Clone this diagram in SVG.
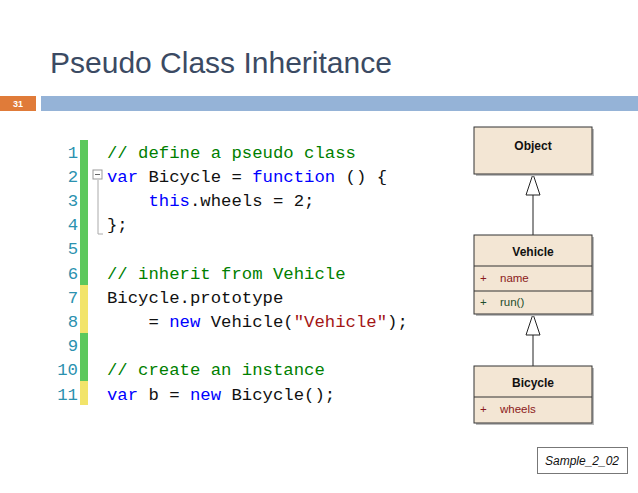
<svg xmlns="http://www.w3.org/2000/svg" width="638" height="493" viewBox="0 0 638 493">
<style>
.code{font-family:"Liberation Mono",monospace;font-size:17.3px;fill:#111}
.ln{font-family:"Liberation Mono",monospace;font-size:17.3px;fill:#2b91af;text-anchor:end}
.cm{fill:#008000}.kw{fill:#0000ff}.st{fill:#a31515}
.box{fill:#f3e6d4;stroke:#333;stroke-width:1}
.hd{font-family:"Liberation Sans",sans-serif;font-size:12px;font-weight:bold;text-anchor:middle;fill:#111}
.at{font-family:"Liberation Sans",sans-serif;font-size:11.5px;fill:#8b1a1a}
.op{font-family:"Liberation Sans",sans-serif;font-size:11.5px;fill:#1e4d2b}
.tri{fill:#fff;stroke:#222;stroke-width:1}
</style>
<rect width="638" height="493" fill="#fff"/>
<text x="50" y="73" font-family="Liberation Sans, sans-serif" font-size="30" fill="#3b4a63">Pseudo Class Inheritance</text>
<rect x="0" y="96" width="36" height="15" fill="#e07b39"/>
<text x="18" y="107" font-family="Liberation Sans, sans-serif" font-size="9" font-weight="bold" fill="#fff" text-anchor="middle">31</text>
<rect x="41" y="96" width="597" height="15" fill="#95b3d7"/>
<g id="code">
<rect x="80" y="140" width="8" height="145" fill="#5cc85c"/>
<rect x="80" y="285" width="8" height="48" fill="#f2e46a"/>
<rect x="80" y="333" width="8" height="48" fill="#5cc85c"/>
<rect x="80" y="381" width="8" height="24" fill="#f2e46a"/>
<text class="ln" x="78" y="158">1</text><text class="ln" x="78" y="182">2</text><text class="ln" x="78" y="206">3</text><text class="ln" x="78" y="230">4</text><text class="ln" x="78" y="254">5</text><text class="ln" x="78" y="279">6</text><text class="ln" x="78" y="303">7</text><text class="ln" x="78" y="327">8</text><text class="ln" x="78" y="351">9</text><text class="ln" x="78" y="375">10</text><text class="ln" x="78" y="400">11</text>
<rect x="93" y="170" width="9" height="9" fill="#fff" stroke="#999"/>
<line x1="95" y1="174.5" x2="100" y2="174.5" stroke="#666"/>
<path d="M98 180 V234 H103" fill="none" stroke="#aaa"/>
<text class="code" x="107" y="158" xml:space="preserve"><tspan class="cm">// define a pseudo class</tspan></text>
<text class="code" x="107" y="182" xml:space="preserve"><tspan class="kw">var</tspan> Bicycle = <tspan class="kw">function</tspan> () {</text>
<text class="code" x="107" y="206" xml:space="preserve">    <tspan class="kw">this</tspan>.wheels = 2;</text>
<text class="code" x="107" y="230">};</text>
<text class="code" x="107" y="279" xml:space="preserve"><tspan class="cm">// inherit from Vehicle</tspan></text>
<text class="code" x="107" y="303">Bicycle.prototype</text>
<text class="code" x="107" y="327" xml:space="preserve">    = <tspan class="kw">new</tspan> Vehicle(<tspan class="st">"Vehicle"</tspan>);</text>
<text class="code" x="107" y="375" xml:space="preserve"><tspan class="cm">// create an instance</tspan></text>
<text class="code" x="107" y="400" xml:space="preserve"><tspan class="kw">var</tspan> b = <tspan class="kw">new</tspan> Bicycle();</text>
</g>
<g id="connectors">
<line x1="533" y1="195" x2="533" y2="235" stroke="#222"/>
<polygon class="tri" points="533,174 526,195 540,195"/>
<line x1="533" y1="335" x2="533" y2="366" stroke="#222"/>
<polygon class="tri" points="533,314 526,335 540,335"/>
</g>
<g id="Object">
<rect x="476" y="129" width="118" height="47" fill="#bbb"/>
<rect class="box" x="474" y="127" width="118" height="47"/>
<text class="hd" x="533" y="150">Object</text>
</g>
<g id="Vehicle">
<rect x="476" y="237" width="118" height="79" fill="#bbb"/>
<rect class="box" x="474" y="235" width="118" height="79"/>
<line x1="474" y1="266" x2="592" y2="266" stroke="#333"/>
<line x1="474" y1="291" x2="592" y2="291" stroke="#333"/>
<text class="hd" x="533" y="256">Vehicle</text>
<text class="at" x="480" y="282">+</text><text class="at" x="500" y="282">name</text>
<text class="op" x="480" y="306">+</text><text class="op" x="500" y="306">run()</text>
</g>
<g id="Bicycle">
<rect x="476" y="368" width="118" height="57" fill="#bbb"/>
<rect class="box" x="474" y="366" width="118" height="57"/>
<line x1="474" y1="397" x2="592" y2="397" stroke="#333"/>
<text class="hd" x="533" y="387">Bicycle</text>
<text class="at" x="480" y="413">+</text><text class="at" x="500" y="413">wheels</text>
</g>
<g id="sample">
<rect x="537.5" y="447.5" width="90" height="26" fill="#fff" stroke="#777"/>
<text x="582" y="465" font-family="Liberation Sans, sans-serif" font-size="12" font-style="italic" text-anchor="middle" fill="#111">Sample_2_02</text>
</g>
</svg>
